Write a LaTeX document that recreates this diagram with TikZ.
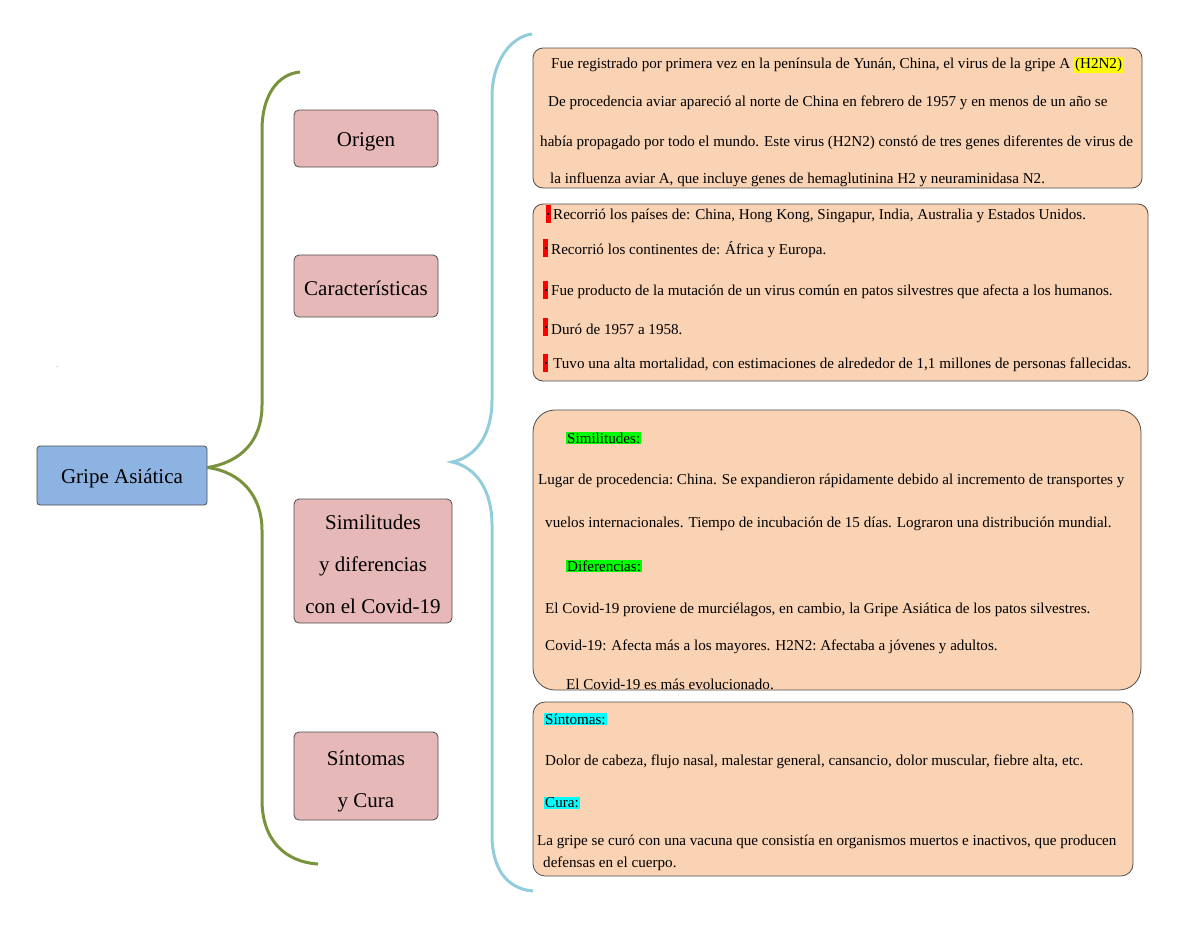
\documentclass[tikz,border=0pt]{standalone}
\usepackage{fontspec}
\setmainfont{Liberation Serif}
\newfontfamily\bodyfont{Liberation Serif}
\definecolor{blueF}{HTML}{8DB3E2}
\definecolor{pinkF}{HTML}{E6B9B8}
\definecolor{peachF}{HTML}{FAD3B4}
\definecolor{edgeC}{HTML}{4D4D4D}
\definecolor{greenL}{HTML}{77933C}
\definecolor{blueL}{HTML}{92CDDC}
\definecolor{hlY}{HTML}{FFFF00}
\definecolor{hlG}{HTML}{00FF00}
\definecolor{hlC}{HTML}{00FFFF}
\definecolor{bulR}{HTML}{FF0000}
\setlength{\fboxsep}{1pt}
\tikzset{
  mainbox/.style={draw=edgeC, fill=blueF, rounded corners=3pt, line width=0.8pt, inner sep=0pt,
    minimum width=170pt, minimum height=59pt},
  topic/.style={draw=edgeC, fill=pinkF, rounded corners=5pt, line width=0.8pt, inner sep=0pt},
  ttext/.style={inner sep=0pt, align=center, font=\fontsize{21}{42}\selectfont},
  panel/.style={draw=edgeC, fill=peachF, line width=0.8pt, inner sep=0pt},
  txt/.style={anchor=west, inner sep=0pt, yshift=-2pt, font=\bodyfont\fontsize{15.1}{18}\selectfont},
  hl/.style={anchor=west, inner sep=1pt, yshift=-1pt, font=\bodyfont\fontsize{15.1}{18}\selectfont, fill=#1},
  bul/.style={fill=bulR, inner sep=0pt, minimum width=5pt, minimum height=18pt},
  gbr/.style={draw=greenL, line width=3pt},
  bbr/.style={draw=blueL, line width=3pt}
}
\begin{document}
\begin{tikzpicture}[x=1pt,y=-1pt]
\useasboundingbox (0,0) rectangle (1200,927);

% main and topic boxes
\node[mainbox] (gripe) at (122,475.5) {};
\node[ttext] (gripeT) at ([yshift=-3pt]gripe.center) {Gripe Asiática};
\node[topic, minimum width=144pt, minimum height=57pt] (origen) at (366,138.5) {};
\node[ttext] (origenT) at ([yshift=-3pt]origen.center) {Origen};
\node[topic, minimum width=144pt, minimum height=62pt] (carac) at (366,286) {};
\node[ttext] (caracT) at ([yshift=-2pt]carac.center) {Características};
\node[topic, minimum width=158pt, minimum height=124pt] (simil) at (373,561) {};
\node[ttext] (similT) at ([yshift=-3pt]simil.center) {Similitudes\\y diferencias\\con el Covid-19};
\node[topic, minimum width=144pt, minimum height=88pt] (sint) at (366,776) {};
\node[ttext] (sintT) at ([yshift=-5pt]sint.center) {Síntomas\\y Cura};
\node[inner sep=0pt, text=gray, font=\fontsize{8}{8}\selectfont] (dot) at (57,367) {.};

% green bracket
\coordinate (gj) at ([yshift=8pt]gripe.east);
\coordinate (gu1) at (262,405);
\coordinate (gu2) at (262,130);
\coordinate (gtop) at (300,72);
\coordinate (gl1) at (262,530);
\coordinate (gl2) at (262,800);
\coordinate (gbot) at (318,864);
\draw[gbr] (gj) .. controls (242,462) and (262,440) .. (gu1) -- (gu2) .. controls (262,95) and (278,74) .. (gtop);
\draw[gbr] (gj) .. controls (242,472) and (262,497) .. (gl1) -- (gl2) .. controls (262,840) and (285,862) .. (gbot);

% blue bracket
\coordinate (btip) at (452,462);
\coordinate (bu1) at (492,400);
\coordinate (bu2) at (492,97);
\coordinate (btop) at (532,34);
\coordinate (bl1) at (492,525);
\coordinate (bl2) at (492,835);
\coordinate (bbot) at (533,891);
\draw[bbr] (btop) .. controls (510,37) and (492,62) .. (bu2) -- (bu1) .. controls (492,435) and (476,457) .. (btip)
  .. controls (476,467) and (492,490) .. (bl1) -- (bl2) .. controls (492,870) and (508,889) .. (bbot);

% panels
\node[panel, rounded corners=10pt, minimum width=609pt, minimum height=140pt] (p1) at (837.5,118) {};
\node[panel, rounded corners=10pt, minimum width=615pt, minimum height=177pt] (p2) at (840.5,292.5) {};
\node[panel, rounded corners=22pt, minimum width=608pt, minimum height=280pt] (p3) at (837,550) {};
\node[panel, rounded corners=12pt, minimum width=600pt, minimum height=174pt] (p4) at (833,789) {};

% panel 1 text
\node[txt] (t11) at (551,63) {Fue registrado por primera vez en la península de Yunán, China, el virus de la gripe A \colorbox{hlY}{(H2N2)}};
\node[txt] (t12) at (548,101) {De procedencia aviar apareció al norte de China en febrero de 1957 y en menos de un año se};
\node[txt] (t13) at (540,141) {había propagado por todo el mundo. Este virus (H2N2) constó de tres genes diferentes de virus de};
\node[txt] (t14) at (550,178) {la influenza aviar A, que incluye genes de hemaglutinina H2 y neuraminidasa N2.};

% panel 2 text
\node[bul] (b1) at (548,214) {\rule{2pt}{2pt}};
\node[txt] (t21) at (553,214) {Recorrió los países de: China, Hong Kong, Singapur, India, Australia y Estados Unidos.};
\node[bul] (b2) at (545.5,248) {\rule{2pt}{2pt}};
\node[txt] (t22) at (551,248) {Recorrió los continentes de: África y Europa.};
\node[bul] (b3) at (545.5,290) {\rule{2pt}{2pt}};
\node[txt] (t23) at (551,290) {Fue producto de la mutación de un virus común en patos silvestres que afecta a los humanos.};
\node[bul] (b4) at (545.5,327) {\rule{2pt}{2pt}};
\node[txt] (t24) at (551,327) {Duró de 1957 a 1958.};
\node[bul] (b5) at (545.5,363) {\rule{2pt}{2pt}};
\node[txt] (t25) at (553,363) {Tuvo una alta mortalidad, con estimaciones de alrededor de 1,1 millones de personas fallecidas.};

% panel 3 text
\node[hl=hlG] (t31) at (566,437) {Similitudes:};
\node[txt] (t32) at (538,479) {Lugar de procedencia:\ China. Se expandieron rápidamente debido al incremento de transportes y};
\node[txt] (t33) at (545,522) {vuelos internacionales. Tiempo de incubación de 15 días. Lograron una distribución mundial.};
\node[hl=hlG] (t34) at (566,565) {Diferencias:};
\node[txt] (t35) at (545,608) {El Covid-19 proviene de murciélagos, en cambio, la Gripe Asiática de los patos silvestres.};
\node[txt] (t36) at (545,645) {Covid-19: Afecta más a los mayores. H2N2:\ Afectaba a jóvenes y adultos.};
\node[txt] (t37) at (566,682) {El Covid-19 es más evolucionado.};

% panel 4 text
\node[hl=hlC] (t41) at (544,718) {Síntomas:};
\node[txt] (t42) at (545,760) {Dolor de cabeza, flujo nasal, malestar general, cansancio, dolor muscular, fiebre alta, etc.};
\node[hl=hlC] (t43) at (544,802) {Cura:};
\node[txt] (t44) at (537,840) {La gripe se curó con una vacuna que consistía en organismos muertos e inactivos, que producen};
\node[txt] (t45) at (543,862) {defensas en el cuerpo.};
\end{tikzpicture}
\end{document}
